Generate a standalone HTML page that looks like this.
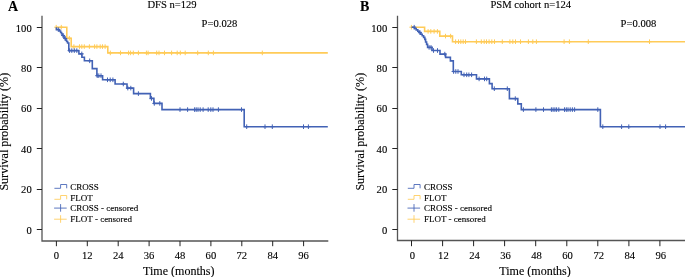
<!DOCTYPE html>
<html><head><meta charset="utf-8"><style>
html,body{margin:0;padding:0;background:#fff;width:685px;height:277px;overflow:hidden}
svg{display:block}
text{font-family:'Liberation Serif', 'Times New Roman', serif;fill:#000;stroke:#000;stroke-width:0.12px}
.t{font-size:10.6px}
.ax{font-size:12.05px}
.lg{font-size:9.0px}
.lab{font-size:14px;font-weight:bold}
</style></head><body>
<svg width="685" height="277" viewBox="0 0 685 277">
<rect width="685" height="277" fill="#fff"/>
<path d="M42.0,15.8V241.0H328.3" fill="none" stroke="#555" stroke-width="1.3"/>
<path d="M36.8,229.5H42.0" stroke="#222" stroke-width="1"/>
<text x="31.7" y="233.7" text-anchor="end" class="t">0</text>
<path d="M36.8,189.5H42.0" stroke="#222" stroke-width="1"/>
<text x="31.7" y="193.3" text-anchor="end" class="t">20</text>
<path d="M36.8,148.5H42.0" stroke="#222" stroke-width="1"/>
<text x="31.7" y="152.8" text-anchor="end" class="t">40</text>
<path d="M36.8,108.5H42.0" stroke="#222" stroke-width="1"/>
<text x="31.7" y="112.4" text-anchor="end" class="t">60</text>
<path d="M36.8,67.5H42.0" stroke="#222" stroke-width="1"/>
<text x="31.7" y="71.9" text-anchor="end" class="t">80</text>
<path d="M36.8,27.5H42.0" stroke="#222" stroke-width="1"/>
<text x="31.7" y="31.5" text-anchor="end" class="t">100</text>
<path d="M56.4,241.0V246.2" stroke="#222" stroke-width="1"/>
<text x="56.4" y="259.4" text-anchor="middle" class="t">0</text>
<path d="M87.3,241.0V246.2" stroke="#222" stroke-width="1"/>
<text x="87.3" y="259.4" text-anchor="middle" class="t">12</text>
<path d="M118.2,241.0V246.2" stroke="#222" stroke-width="1"/>
<text x="118.2" y="259.4" text-anchor="middle" class="t">24</text>
<path d="M149.1,241.0V246.2" stroke="#222" stroke-width="1"/>
<text x="149.1" y="259.4" text-anchor="middle" class="t">36</text>
<path d="M180.0,241.0V246.2" stroke="#222" stroke-width="1"/>
<text x="180.0" y="259.4" text-anchor="middle" class="t">48</text>
<path d="M210.9,241.0V246.2" stroke="#222" stroke-width="1"/>
<text x="210.9" y="259.4" text-anchor="middle" class="t">60</text>
<path d="M241.8,241.0V246.2" stroke="#222" stroke-width="1"/>
<text x="241.8" y="259.4" text-anchor="middle" class="t">72</text>
<path d="M272.7,241.0V246.2" stroke="#222" stroke-width="1"/>
<text x="272.7" y="259.4" text-anchor="middle" class="t">84</text>
<path d="M303.6,241.0V246.2" stroke="#222" stroke-width="1"/>
<text x="303.6" y="259.4" text-anchor="middle" class="t">96</text>
<path d="M56.4,27.2H66.8V38.2H71.2V46.6H107.8V52.9H327.8" fill="none" stroke="#ffcb58" stroke-width="1.6"/>
<path d="M56.2,24.9v4.6M54.2,27.2h4.0M61.3,24.9v4.6M59.3,27.2h4.0M69.3,35.9v4.6M67.3,38.2h4.0M73.9,44.3v4.6M71.9,46.6h4.0M79.5,44.3v4.6M77.5,46.6h4.0M81.8,44.3v4.6M79.8,46.6h4.0M84.3,44.3v4.6M82.3,46.6h4.0M89.4,44.3v4.6M87.4,46.6h4.0M94.6,44.3v4.6M92.6,46.6h4.0M96.9,44.3v4.6M94.9,46.6h4.0M100.2,44.3v4.6M98.2,46.6h4.0M102.5,44.3v4.6M100.5,46.6h4.0M105.1,44.3v4.6M103.1,46.6h4.0M110.3,50.6v4.6M108.3,52.9h4.0M120.5,50.6v4.6M118.5,52.9h4.0M128.6,50.6v4.6M126.6,52.9h4.0M130.6,50.6v4.6M128.6,52.9h4.0M133.3,50.6v4.6M131.3,52.9h4.0M138.4,50.6v4.6M136.4,52.9h4.0M146.4,50.6v4.6M144.4,52.9h4.0M148.1,50.6v4.6M146.1,52.9h4.0M156.7,50.6v4.6M154.7,52.9h4.0M159.0,50.6v4.6M157.0,52.9h4.0M164.5,50.6v4.6M162.5,52.9h4.0M171.6,50.6v4.6M169.6,52.9h4.0M177.2,50.6v4.6M175.2,52.9h4.0M180.3,50.6v4.6M178.3,52.9h4.0M185.2,50.6v4.6M183.2,52.9h4.0M197.7,50.6v4.6M195.7,52.9h4.0M208.3,50.6v4.6M206.3,52.9h4.0M213.4,50.6v4.6M211.4,52.9h4.0M262.3,50.6v4.6M260.3,52.9h4.0" fill="none" stroke="#ffcb58" stroke-width="1"/>
<path d="M56.4,27.2H56.4V29.6H59.4V31.0H60.6V32.5H61.6V34.0H62.6V35.5H63.6V37.0H64.6V38.5H65.6V40.0H66.6V41.5H67.6V43.0H68.8V50.6H78.9V53.9H81.9V57.3H84.4V60.8H92.3V68.6H96.9V75.7H102.6V79.8H115.1V84.0H127.0V88.1H133.6V93.6H150.4V98.4H153.9V103.4H162.0V109.6H244.2V126.7H327.8" fill="none" stroke="#4262b5" stroke-width="1.6"/>
<path d="M58.3,27.3v4.6M56.3,29.6h4.0M63.1,33.2v4.6M61.1,35.5h4.0M65.2,36.2v4.6M63.2,38.5h4.0M69.6,48.3v4.6M67.6,50.6h4.0M71.8,48.3v4.6M69.8,50.6h4.0M74.3,48.3v4.6M72.3,50.6h4.0M76.8,48.3v4.6M74.8,50.6h4.0M81.8,51.6v4.6M79.8,53.9h4.0M89.7,58.5v4.6M87.7,60.8h4.0M97.2,73.4v4.6M95.2,75.7h4.0M98.8,73.4v4.6M96.8,75.7h4.0M101.0,73.4v4.6M99.0,75.7h4.0M107.5,77.5v4.6M105.5,79.8h4.0M110.2,77.5v4.6M108.2,79.8h4.0M112.9,77.5v4.6M110.9,79.8h4.0M123.3,81.7v4.6M121.3,84.0h4.0M127.8,85.8v4.6M125.8,88.1h4.0M130.8,85.8v4.6M128.8,88.1h4.0M138.4,91.3v4.6M136.4,93.6h4.0M151.5,96.1v4.6M149.5,98.4h4.0M154.3,101.1v4.6M152.3,103.4h4.0M159.8,101.1v4.6M157.8,103.4h4.0M180.0,107.3v4.6M178.0,109.6h4.0M187.6,107.3v4.6M185.6,109.6h4.0M194.6,107.3v4.6M192.6,109.6h4.0M196.2,107.3v4.6M194.2,109.6h4.0M198.0,107.3v4.6M196.0,109.6h4.0M200.2,107.3v4.6M198.2,109.6h4.0M203.1,107.3v4.6M201.1,109.6h4.0M208.2,107.3v4.6M206.2,109.6h4.0M210.8,107.3v4.6M208.8,109.6h4.0M213.0,107.3v4.6M211.0,109.6h4.0M218.4,107.3v4.6M216.4,109.6h4.0M241.5,107.3v4.6M239.5,109.6h4.0M246.7,124.4v4.6M244.7,126.7h4.0M265.0,124.4v4.6M263.0,126.7h4.0M272.3,124.4v4.6M270.3,126.7h4.0M303.5,124.4v4.6M301.5,126.7h4.0M308.4,124.4v4.6M306.4,126.7h4.0" fill="none" stroke="#4262b5" stroke-width="1"/>
<text x="8.0" y="10.6" class="lab">A</text>
<text x="147.4" y="8" class="t">DFS n=129</text>
<text x="201.6" y="27.2" class="t">P=0.028</text>
<text transform="translate(8.3,190.6) rotate(-90)" class="ax">Survival probability (%)</text>
<text x="143.0" y="274.5" class="ax">Time (months)</text>
<path d="M54.4,188.3H60.6V184.5H66.7V188.3" fill="none" stroke="#4262b5" stroke-width="1" opacity="0.85"/>
<text x="70.3" y="190.1" class="lg">CROSS</text>
<path d="M54.4,199.3H60.6V195.5H66.7V199.3" fill="none" stroke="#ffcb58" stroke-width="1" opacity="0.85"/>
<text x="70.3" y="200.8" class="lg">FLOT</text>
<path d="M54.1,208.1H66.7M60.6,204.1V211.7" fill="none" stroke="#4262b5" stroke-width="1" opacity="0.85"/>
<text x="70.3" y="211.2" class="lg">CROSS - censored</text>
<path d="M54.1,219.2H66.7M60.6,215.2V222.8" fill="none" stroke="#ffcb58" stroke-width="1" opacity="0.85"/>
<text x="70.3" y="221.7" class="lg">FLOT - censored</text>
<path d="M397.5,15.8V240.5H685" fill="none" stroke="#555" stroke-width="1.3"/>
<path d="M392.3,229.5H397.5" stroke="#222" stroke-width="1"/>
<text x="387.2" y="233.7" text-anchor="end" class="t">0</text>
<path d="M392.3,189.5H397.5" stroke="#222" stroke-width="1"/>
<text x="387.2" y="193.3" text-anchor="end" class="t">20</text>
<path d="M392.3,148.5H397.5" stroke="#222" stroke-width="1"/>
<text x="387.2" y="152.8" text-anchor="end" class="t">40</text>
<path d="M392.3,108.5H397.5" stroke="#222" stroke-width="1"/>
<text x="387.2" y="112.4" text-anchor="end" class="t">60</text>
<path d="M392.3,67.5H397.5" stroke="#222" stroke-width="1"/>
<text x="387.2" y="71.9" text-anchor="end" class="t">80</text>
<path d="M392.3,27.5H397.5" stroke="#222" stroke-width="1"/>
<text x="387.2" y="31.5" text-anchor="end" class="t">100</text>
<path d="M411.5,240.5V246.2" stroke="#222" stroke-width="1"/>
<text x="412.4" y="259.4" text-anchor="middle" class="t">0</text>
<path d="M442.6,240.5V246.2" stroke="#222" stroke-width="1"/>
<text x="443.4" y="259.4" text-anchor="middle" class="t">12</text>
<path d="M473.6,240.5V246.2" stroke="#222" stroke-width="1"/>
<text x="474.5" y="259.4" text-anchor="middle" class="t">24</text>
<path d="M504.6,240.5V246.2" stroke="#222" stroke-width="1"/>
<text x="505.5" y="259.4" text-anchor="middle" class="t">36</text>
<path d="M535.7,240.5V246.2" stroke="#222" stroke-width="1"/>
<text x="536.6" y="259.4" text-anchor="middle" class="t">48</text>
<path d="M566.8,240.5V246.2" stroke="#222" stroke-width="1"/>
<text x="567.6" y="259.4" text-anchor="middle" class="t">60</text>
<path d="M597.8,240.5V246.2" stroke="#222" stroke-width="1"/>
<text x="598.7" y="259.4" text-anchor="middle" class="t">72</text>
<path d="M628.9,240.5V246.2" stroke="#222" stroke-width="1"/>
<text x="629.8" y="259.4" text-anchor="middle" class="t">84</text>
<path d="M659.9,240.5V246.2" stroke="#222" stroke-width="1"/>
<text x="660.8" y="259.4" text-anchor="middle" class="t">96</text>
<path d="M411.5,27.2H424.6V31.4H439.8V36.1H452.5V41.7H686.0" fill="none" stroke="#ffcb58" stroke-width="1.6"/>
<path d="M411.4,24.9v4.6M409.4,27.2h4.0M428.1,29.1v4.6M426.1,31.4h4.0M430.8,29.1v4.6M428.8,31.4h4.0M434.1,29.1v4.6M432.1,31.4h4.0M437.4,29.1v4.6M435.4,31.4h4.0M445.5,33.8v4.6M443.5,36.1h4.0M450.6,33.8v4.6M448.6,36.1h4.0M455.6,39.4v4.6M453.6,41.7h4.0M458.5,39.4v4.6M456.5,41.7h4.0M460.8,39.4v4.6M458.8,41.7h4.0M463.2,39.4v4.6M461.2,41.7h4.0M465.5,39.4v4.6M463.5,41.7h4.0M476.4,39.4v4.6M474.4,41.7h4.0M481.3,39.4v4.6M479.3,41.7h4.0M484.2,39.4v4.6M482.2,41.7h4.0M486.5,39.4v4.6M484.5,41.7h4.0M489.1,39.4v4.6M487.1,41.7h4.0M491.8,39.4v4.6M489.8,41.7h4.0M494.5,39.4v4.6M492.5,41.7h4.0M502.3,39.4v4.6M500.3,41.7h4.0M509.9,39.4v4.6M507.9,41.7h4.0M512.8,39.4v4.6M510.8,41.7h4.0M515.5,39.4v4.6M513.5,41.7h4.0M520.5,39.4v4.6M518.5,41.7h4.0M528.4,39.4v4.6M526.4,41.7h4.0M532.8,39.4v4.6M530.8,41.7h4.0M536.4,39.4v4.6M534.4,41.7h4.0M564.1,39.4v4.6M562.1,41.7h4.0M569.4,39.4v4.6M567.4,41.7h4.0M588.3,39.4v4.6M586.3,41.7h4.0M649.5,39.4v4.6M647.5,41.7h4.0" fill="none" stroke="#ffcb58" stroke-width="1"/>
<path d="M411.5,27.2H414.5V28.5H416.2V29.9H417.8V31.2H419.4V32.6H420.8V34.2H422.2V35.8H423.6V37.4H424.8V39.4H425.6V42.0H426.6V44.4H427.6V47.4H432.0V50.5H440.0V54.1H445.6V57.4H450.4V60.9H453.3V71.5H461.3V74.8H476.5V78.9H489.4V83.6H492.1V88.7H509.4V98.6H517.8V103.9H521.3V109.6H600.4V126.7H686.0" fill="none" stroke="#4262b5" stroke-width="1.6"/>
<path d="M414.2,24.9v4.6M412.2,27.2h4.0M419.9,30.3v4.6M417.9,32.6h4.0M429.1,45.1v4.6M427.1,47.4h4.0M431.0,45.1v4.6M429.0,47.4h4.0M433.5,48.2v4.6M431.5,50.5h4.0M437.5,48.2v4.6M435.5,50.5h4.0M444.8,51.8v4.6M442.8,54.1h4.0M453.6,69.2v4.6M451.6,71.5h4.0M455.8,69.2v4.6M453.8,71.5h4.0M458.0,69.2v4.6M456.0,71.5h4.0M464.0,72.5v4.6M462.0,74.8h4.0M466.7,72.5v4.6M464.7,74.8h4.0M468.9,72.5v4.6M466.9,74.8h4.0M471.6,72.5v4.6M469.6,74.8h4.0M479.1,76.6v4.6M477.1,78.9h4.0M484.5,76.6v4.6M482.5,78.9h4.0M486.7,76.6v4.6M484.7,78.9h4.0M494.3,86.4v4.6M492.3,88.7h4.0M507.3,86.4v4.6M505.3,88.7h4.0M515.3,96.3v4.6M513.3,98.6h4.0M523.4,107.3v4.6M521.4,109.6h4.0M535.9,107.3v4.6M533.9,109.6h4.0M543.5,107.3v4.6M541.5,109.6h4.0M551.4,107.3v4.6M549.4,109.6h4.0M553.1,107.3v4.6M551.1,109.6h4.0M554.9,107.3v4.6M552.9,109.6h4.0M556.6,107.3v4.6M554.6,109.6h4.0M558.8,107.3v4.6M556.8,109.6h4.0M564.5,107.3v4.6M562.5,109.6h4.0M566.3,107.3v4.6M564.3,109.6h4.0M568.0,107.3v4.6M566.0,109.6h4.0M570.2,107.3v4.6M568.2,109.6h4.0M572.4,107.3v4.6M570.4,109.6h4.0M574.6,107.3v4.6M572.6,109.6h4.0M597.8,107.3v4.6M595.8,109.6h4.0M602.8,124.4v4.6M600.8,126.7h4.0M621.6,124.4v4.6M619.6,126.7h4.0M628.8,124.4v4.6M626.8,126.7h4.0M660.0,124.4v4.6M658.0,126.7h4.0M665.6,124.4v4.6M663.6,126.7h4.0" fill="none" stroke="#4262b5" stroke-width="1"/>
<text x="360.0" y="10.6" class="lab">B</text>
<text x="490.4" y="8" class="t">PSM cohort n=124</text>
<text x="620.6" y="27.2" class="t">P=0.008</text>
<text transform="translate(363.8,190.6) rotate(-90)" class="ax">Survival probability (%)</text>
<text x="499.3" y="274.5" class="ax">Time (months)</text>
<path d="M407.8,188.3H414.0V184.5H420.1V188.3" fill="none" stroke="#4262b5" stroke-width="1" opacity="0.85"/>
<text x="424.0" y="190.1" class="lg">CROSS</text>
<path d="M407.8,199.3H414.0V195.5H420.1V199.3" fill="none" stroke="#ffcb58" stroke-width="1" opacity="0.85"/>
<text x="424.0" y="200.8" class="lg">FLOT</text>
<path d="M407.5,208.1H420.1M414.0,204.1V211.7" fill="none" stroke="#4262b5" stroke-width="1" opacity="0.85"/>
<text x="424.0" y="211.2" class="lg">CROSS - censored</text>
<path d="M407.5,219.2H420.1M414.0,215.2V222.8" fill="none" stroke="#ffcb58" stroke-width="1" opacity="0.85"/>
<text x="424.0" y="221.7" class="lg">FLOT - censored</text>
</svg>
</body></html>
